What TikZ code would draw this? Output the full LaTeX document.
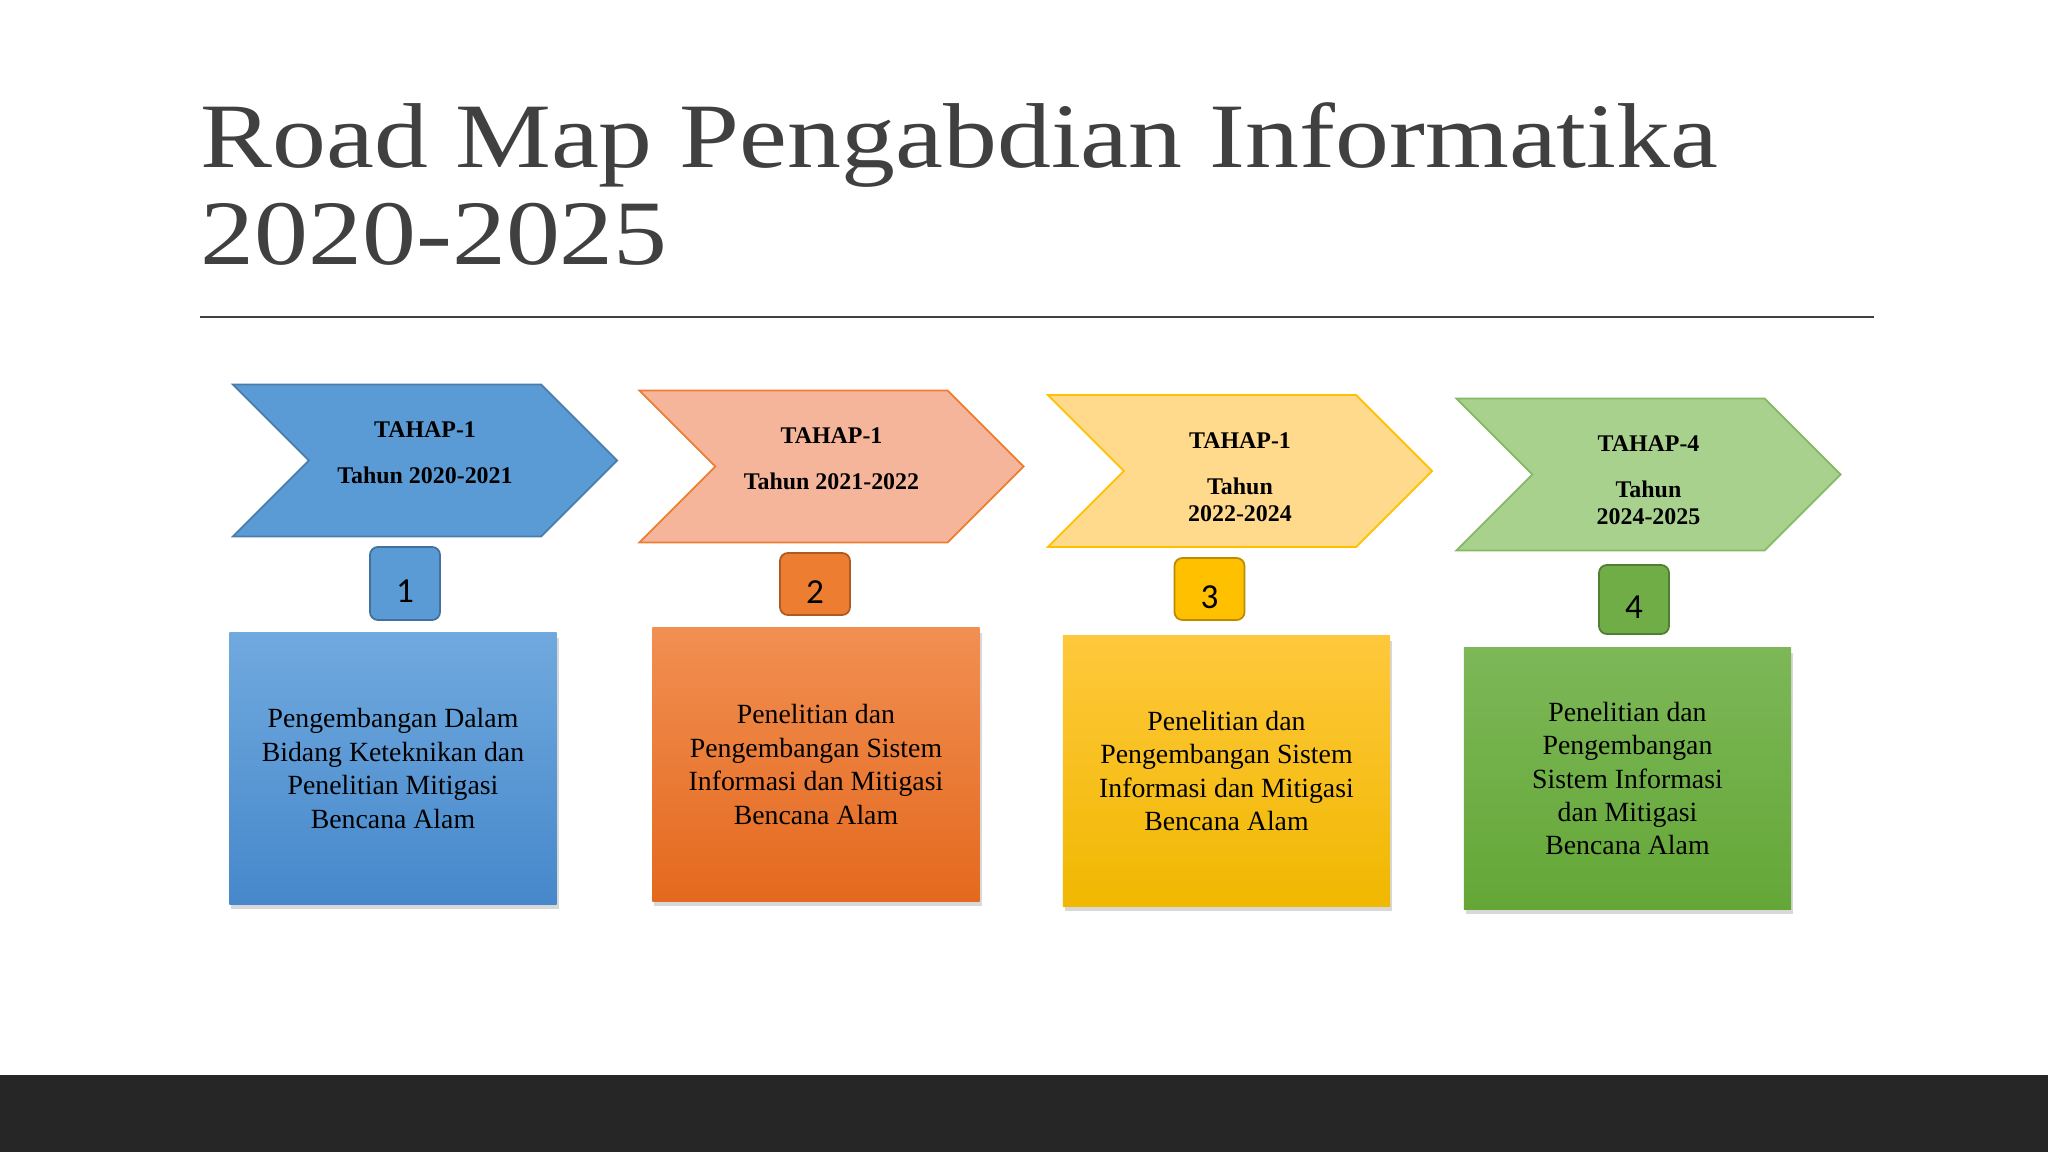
\documentclass[tikz,border=0pt]{standalone}
\usepackage{fontspec}
\setmainfont{Liberation Serif}
\newfontfamily\titlefont[FakeStretch=1.17]{Liberation Serif}
\newfontfamily\numfont{Carlito}
\usetikzlibrary{shapes.symbols}
\usetikzlibrary{shadows}
\usetikzlibrary{positioning}
\usepackage{xcolor}

\definecolor{slidegray}{HTML}{404040}
\definecolor{footergray}{HTML}{262626}
\definecolor{blueMain}{HTML}{5B9BD5}
\definecolor{blueLine}{HTML}{41719C}
\definecolor{blueTop}{HTML}{70A9DE}
\definecolor{blueBot}{HTML}{4688CB}
\definecolor{orangeMain}{HTML}{ED7D31}
\definecolor{orangeLine}{HTML}{AE5A21}
\definecolor{orangeTop}{HTML}{F18F52}
\definecolor{orangeBot}{HTML}{E4691E}
\definecolor{orangeSoft}{HTML}{F5B59A}
\definecolor{yellowMain}{HTML}{FFC000}
\definecolor{yellowLine}{HTML}{BC8C00}
\definecolor{yellowTop}{HTML}{FFC83C}
\definecolor{yellowBot}{HTML}{F0B800}
\definecolor{yellowSoft}{HTML}{FFD98C}
\definecolor{greenMain}{HTML}{70AD47}
\definecolor{greenLine}{HTML}{507E32}
\definecolor{greenTop}{HTML}{7DB757}
\definecolor{greenBot}{HTML}{64A737}
\definecolor{greenSoft}{HTML}{A9D18E}

\tikzset{
  chevron/.style={signal, signal from=west, signal to=east, signal pointer angle=90,
    draw, line width=0.5pt, minimum width=3.84cm, minimum height=1.52cm, inner sep=0pt},
  chevtext/.style={align=center, inner sep=0pt, font=\fontsize{6.8}{7.7}\selectfont\bfseries},
  numbox/.style={draw, rounded corners=0.08cm, minimum width=0.70cm, inner sep=0pt,
    text height=11pt, text depth=0pt,
    line width=0.5pt, font=\numfont\fontsize{10}{12}\selectfont},
  infobox/.style={minimum width=3.27cm, inner sep=0pt, align=center,
    font=\fontsize{7.9}{9.5}\selectfont,
    drop shadow={shadow xshift=0.02cm, shadow yshift=-0.05cm, opacity=0.3}}
}

\begin{document}
\begin{tikzpicture}[x=0.01cm, y=-0.01cm]
  \useasboundingbox (0,0) rectangle (2048,1152);
  \fill[white] (0,0) rectangle (2048,1152);
  \fill[footergray] (0,1075) rectangle (2048,1152);

  % title
  \node[anchor=base west, align=left, inner sep=0pt, text=slidegray,
        font=\titlefont\fontsize{26.2}{27.6}\selectfont] (title) at (200,265)
        {Road Map Pengabdian Informatika\\2020-2025};
  \draw[slidegray, line width=0.6pt] (200,317) -- (1874,317);

  % stages
  \node[chevron, fill=blueMain, draw=blueMain!80!black] (stage1) at (425,460.5) {};
  \node[chevron, fill=orangeSoft, draw=orangeMain] (stage2) at (831.5,466.5) {};
  \node[chevron, fill=yellowSoft, draw=yellowMain] (stage3) at (1240,471) {};
  \node[chevron, fill=greenSoft, draw=greenMain!85] (stage4) at (1648.5,474.5) {};

  \node[chevtext, yshift=0.08cm] (label1) at (stage1.center) {TAHAP-1\\[5.4pt]Tahun 2020-2021};
  \node[chevtext, yshift=0.08cm] (label2) at (stage2.center) {TAHAP-1\\[5.4pt]Tahun 2021-2022};
  \node[chevtext, yshift=-0.06cm] (label3) at (stage3.center) {TAHAP-1\\[5.4pt]Tahun\\2022-2024};
  \node[chevtext, yshift=-0.06cm] (label4) at (stage4.center) {TAHAP-4\\[5.4pt]Tahun\\2024-2025};

  % numbers
  \node[numbox, fill=blueMain, draw=blueLine, minimum height=0.73cm] (num1) at (405,583.5) {1};
  \node[numbox, fill=orangeMain, draw=orangeLine, minimum height=0.62cm] (num2) at (815,584) {2};
  \node[numbox, fill=yellowMain, draw=yellowLine, minimum height=0.62cm] (num3) at (1209.5,589) {3};
  \node[numbox, fill=greenMain, draw=greenLine, minimum height=0.69cm] (num4) at (1634,599.5) {4};

  % descriptions
  \node[infobox, top color=blueTop, bottom color=blueBot, minimum height=2.71cm] (desc1) at (393,768.5)
    {Pengembangan Dalam\\Bidang Keteknikan dan\\Penelitian Mitigasi\\Bencana Alam};
  \node[infobox, top color=orangeTop, bottom color=orangeBot, minimum height=2.73cm] (desc2) at (816,764.5)
    {Penelitian dan\\Pengembangan Sistem\\Informasi dan Mitigasi\\Bencana Alam};
  \node[infobox, top color=yellowTop, bottom color=yellowBot, minimum height=2.70cm] (desc3) at (1226.5,771)
    {Penelitian dan\\Pengembangan Sistem\\Informasi dan Mitigasi\\Bencana Alam};
  \node[infobox, top color=greenTop, bottom color=greenBot, minimum height=2.61cm] (desc4) at (1627.5,778.5)
    {Penelitian dan\\Pengembangan\\Sistem Informasi\\dan Mitigasi\\Bencana Alam};
\end{tikzpicture}
\end{document}
